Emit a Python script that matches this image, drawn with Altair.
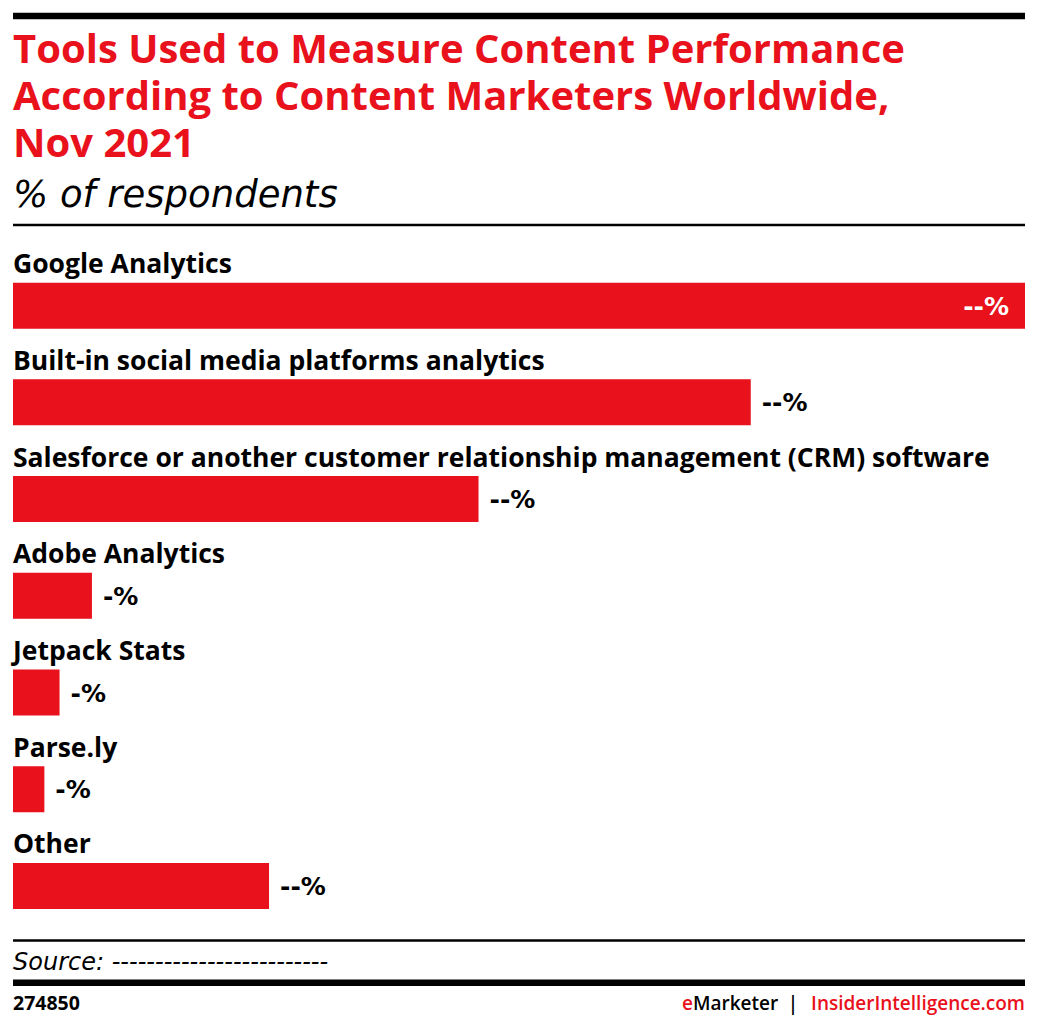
import pandas as pd
import altair as alt

tools = [
    "Google Analytics",
    "Built-in social media platforms analytics",
    "Salesforce or another customer relationship management (CRM) software",
    "Adobe Analytics",
    "Jetpack Stats",
    "Parse.ly",
    "Other",
]
lengths = [100, 72.9, 46.0, 7.8, 4.6, 3.1, 25.3]
value_labels = ["--%", "--%", "--%", "-%", "-%", "-%", "--%"]

title_lines = [
    "Tools Used to Measure Content Performance",
    "According to Content Marketers Worldwide,",
    "Nov 2021",
]
subtitle = "% of respondents"
source = "Source: -------------------------"
chart_id = "274850"

RED = "#E8111C"
FONT = "Open Sans"

df = pd.DataFrame({"tool": tools, "value": lengths, "label": value_labels})
df["inside"] = df["value"] == df["value"].max()

x_scale = alt.Scale(domain=[0, 100], range=[5, 1017], nice=False, zero=True)
y_scale = alt.Scale(domain=tools, range=[249.3, 926.3], paddingInner=0, paddingOuter=0)

base = alt.Chart(df).encode(
    y=alt.Y("tool:N", scale=y_scale, axis=None, sort=tools),
)

bars = base.mark_bar(color=RED, height=46).encode(
    x=alt.X("value:Q", scale=x_scale, axis=None),
    x2=alt.value(5),
)

cat_labels = base.mark_text(
    align="left", baseline="alphabetic", dy=-32.5, font=FONT,
    fontSize=26.5, fontWeight="bold", color="black",
).encode(x=alt.value(5), text="tool:N")

val_out = base.transform_filter("!datum.inside").mark_text(
    align="left", baseline="middle", dx=11, dy=1, font="DejaVu Sans",
    fontSize=25, fontWeight="bold", color="black",
).encode(x=alt.X("value:Q", scale=x_scale), text="label:N")

val_in = base.transform_filter("datum.inside").mark_text(
    align="right", baseline="middle", dx=-16, dy=1, font="DejaVu Sans",
    fontSize=25, fontWeight="bold", color="white",
).encode(x=alt.X("value:Q", scale=x_scale), text="label:N")

one = pd.DataFrame({"k": [0]})


def rule(y, width):
    return alt.Chart(one).mark_rule(color="black", strokeWidth=width).encode(
        x=alt.value(5), x2=alt.value(1017), y=alt.value(y)
    )


def label(text, x, y, size, color="black", weight="normal", style="normal",
          align="left", font=FONT):
    return alt.Chart(one).mark_text(
        text=text, align=align, baseline="alphabetic", font=font, fontSize=size,
        fontWeight=weight, fontStyle=style, color=color, lineHeight=47,
    ).encode(x=alt.value(x), y=alt.value(y))


title = label(title_lines, 5, 54.5, 40, color=RED, weight="bold")
sub = label(subtitle, 5, 199, 37, style="italic", weight=200, font="DejaVu Sans")
src = label(source, 5, 962, 24, style="italic", weight=200, font="DejaVu Sans")
foot_id = label(chart_id, 5, 1002, 19.5, weight="bold")
foot_site = label("InsiderIntelligence.com", 1017, 1002, 19, color=RED, weight=600, align="right")
foot_bar = label("|", 785, 1002, 19, weight=600, align="center")
foot_e = label("e", 674, 1002, 19, color=RED, weight=600)
foot_em = label("Marketer", 685, 1002, 19, weight=600)

chart = alt.layer(
    rule(8, 6.5), title, sub, rule(217, 2.5),
    bars, cat_labels, val_out, val_in,
    rule(932.5, 2.5), src, rule(974.7, 6.5),
    foot_id, foot_e, foot_em, foot_bar, foot_site,
).properties(
    width=1022, height=1012, padding=0, autosize=alt.AutoSizeParams(type="none")
).configure_view(stroke=None)

chart.save("out.html", embed_options={"renderer": "svg", "actions": False})
